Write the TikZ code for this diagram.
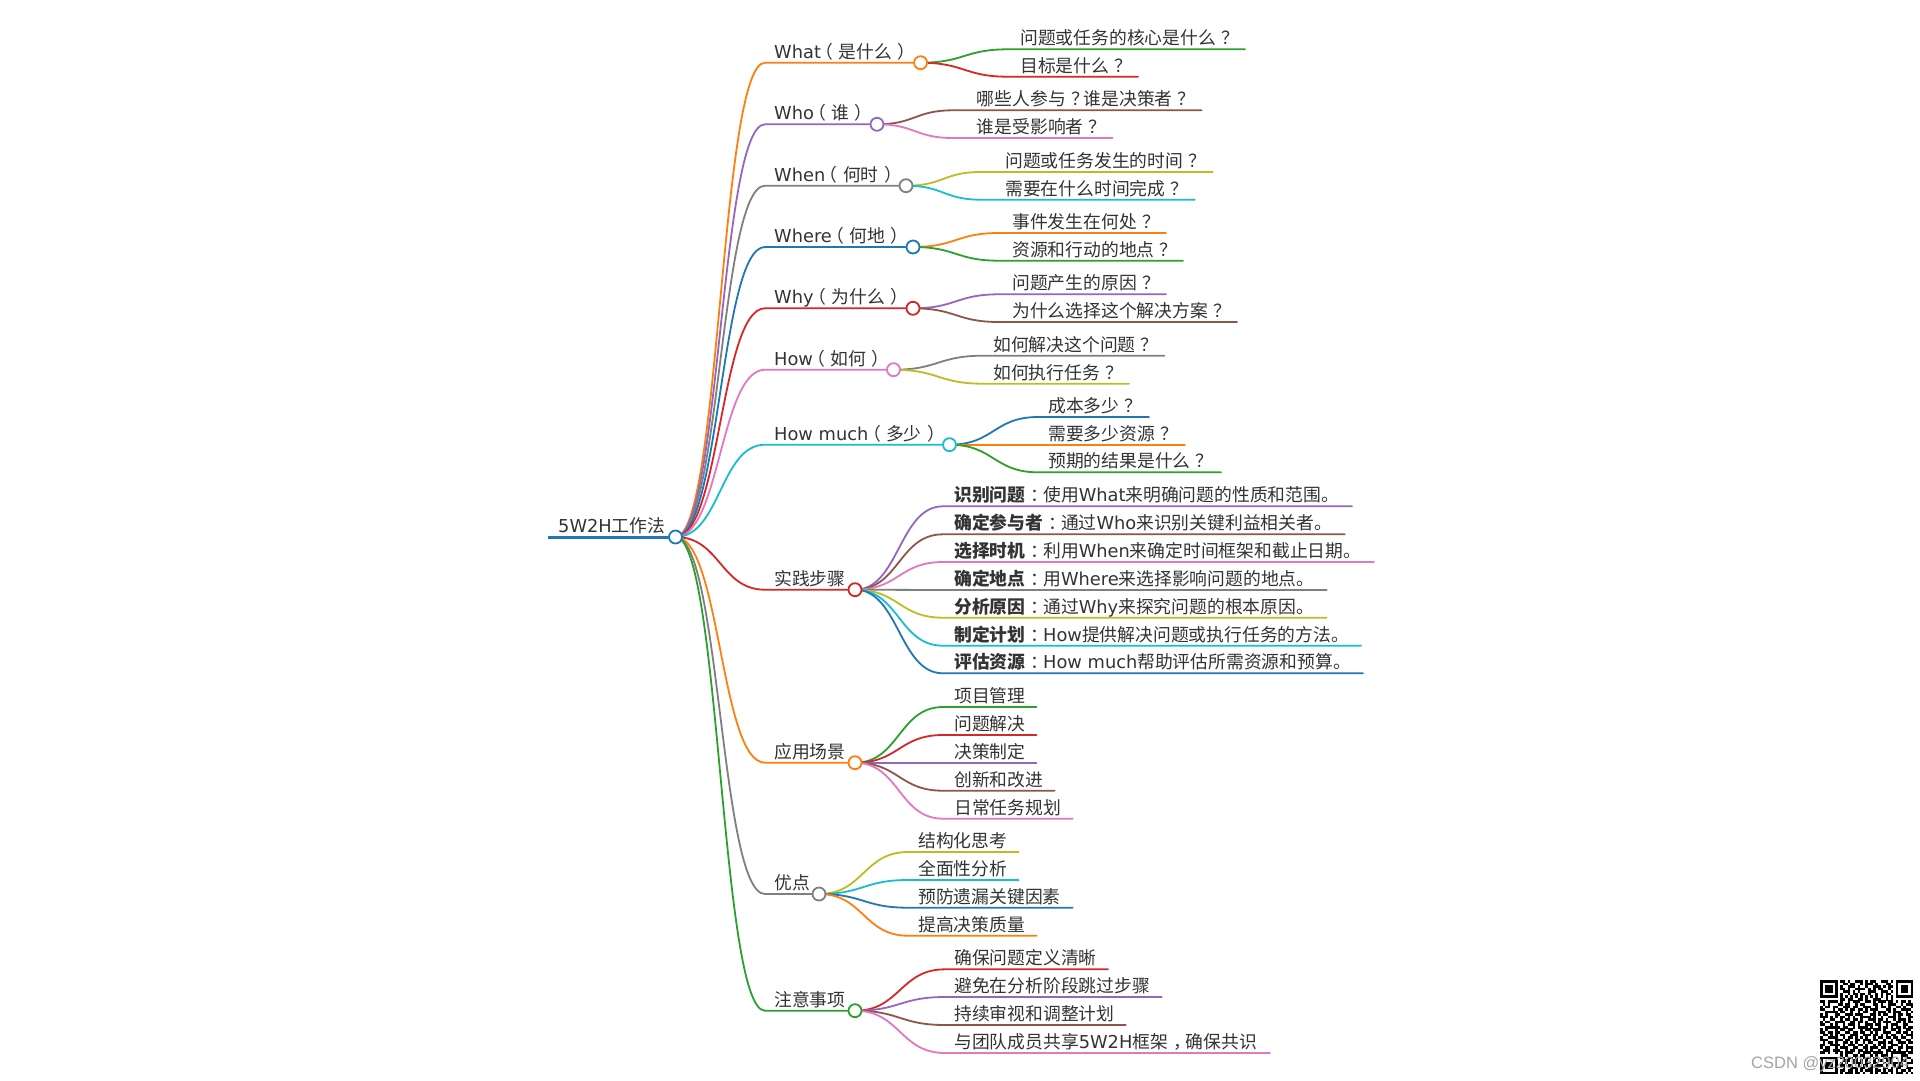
\documentclass[tikz,border=0pt]{standalone}
\usepackage{fontspec}
\usetikzlibrary{calc,backgrounds}
\setmainfont{DejaVu Sans}
\newfontfamily\cjkf{Noto Sans CJK SC}
\newfontfamily\wmf{Liberation Sans}
\newcommand\cj[1]{{\cjkf #1}}
\newcommand\lp{\kern-.3em（\kern.3em}
\newcommand\rp{\kern.3em）\kern-.3em}
\newcommand\fq{\kern.3em？\kern-.3em}
\newcommand\co{\kern.3em：\kern-.3em}
\newcommand\cm{\kern.3em，\kern-.3em}
\definecolor{cb}{HTML}{1F77B4}
\definecolor{co}{HTML}{FF7F0E}
\definecolor{cg}{HTML}{2CA02C}
\definecolor{cr}{HTML}{D62728}
\definecolor{cp}{HTML}{9467BD}
\definecolor{cn}{HTML}{8C564B}
\definecolor{ck}{HTML}{E377C2}
\definecolor{cy}{HTML}{7F7F7F}
\definecolor{cl}{HTML}{BCBD22}
\definecolor{cc}{HTML}{17BECF}
\definecolor{ink}{HTML}{333333}
\definecolor{wmark}{HTML}{A4A4A4}
\tikzset{
  link/.style={line width=1.8pt,line cap=round},
  dotnode/.style={circle,draw=#1,line width=1.8pt,fill=white,inner sep=0pt,minimum size=13pt},
  lab/.style={text=ink,inner sep=0pt,anchor=base west,font=\fontsize{17.8}{20}\selectfont}
}
% #1 colour #2 source #3 name #4 curve end x #5 y #6 line end x #7 text x #8 text
\newcommand\leaf[8]{%
  \coordinate (#3c) at (#4,#5);
  \coordinate (#3e) at (#6,#5);
  \begin{pgfonlayer}{background}
  \draw[link,#1] let \p1=(#2.center),\p2=(#3c),\n1={(\x1+\x2)/2} in
     (#2.center) .. controls (\n1,\y1) and (\n1,\y2) .. (#3c) -- (#3e);
  \end{pgfonlayer}
  \node[lab] (#3) at (#7,#5-4.5) {#8};
}
% #1 colour #2 name #3 y #4 circle x #5 text
\newcommand\branch[5]{%
  \node[dotnode=#1] (#2) at (#4,#3) {};
  \coordinate (#2c) at (765,#3);
  \begin{pgfonlayer}{background}
  \draw[link,#1] let \p1=(root.center),\p2=(#2c),\n1={(\x1+\x2)/2} in
     (root.center) .. controls (\n1,\y1) and (\n1,\y2) .. (#2c) -- (#2.center);
  \end{pgfonlayer}
  \node[lab] (#2t) at (774,#3-4.5) {#5};
}
\newcount\qx
\def\qrcell#1{\ifx#1;\else\if#1x\fill[black] ({1820+\the\qx*2.52},{980+\qrow*2.55}) rectangle ++(2.62,2.65);\fi\global\advance\qx by 1 \expandafter\qrcell\fi}
\begin{document}
\begin{tikzpicture}[x=1pt,y=-1pt]
\useasboundingbox (0,0) rectangle (1920,1080);
\begin{pgfonlayer}{background}
\fill[white] (0,0) rectangle (1920,1080);
\end{pgfonlayer}
% root
\node[dotnode=cb] (root) at (675.5,537) {};
\coordinate (rootl) at (547.5,537);
\begin{pgfonlayer}{background}
\draw[cb,line width=3pt] (rootl) -- (root.center);
\end{pgfonlayer}
\node[lab] (roott) at (558,532.5) {5W2H\cj{工作法}};
% What
\branch{co}{a}{62.7}{920.6}{What\cj{\lp 是什么\rp}}
\leaf{cg}{a}{aa}{1008}{49.3}{1245}{1020}{\cj{问题或任务的核心是什么\fq}}
\leaf{cr}{a}{ab}{1008}{76.7}{1138}{1020}{\cj{目标是什么\fq}}
% Who
\branch{cp}{b}{124.3}{877}{Who\cj{\lp 谁\rp}}
\leaf{cn}{b}{ba}{953}{110.3}{1201.6}{976.6}{\cj{哪些人参与\fq 谁是决策者\fq}}
\leaf{ck}{b}{bb}{953}{138}{1112.5}{976.6}{\cj{谁是受影响者\fq}}
% When
\branch{cy}{c}{185.7}{906}{When\cj{\lp 何时\rp}}
\leaf{cl}{c}{ca}{981}{172}{1212.6}{1005}{\cj{问题或任务发生的时间\fq}}
\leaf{cc}{c}{cb}{981}{199.7}{1194.7}{1005}{\cj{需要在什么时间完成\fq}}
% Where
\branch{cb}{d}{247}{913}{Where\cj{\lp 何地\rp}}
\leaf{co}{d}{da}{999}{233}{1166}{1012}{\cj{事件发生在何处\fq}}
\leaf{cg}{d}{db}{999}{260.7}{1183}{1012}{\cj{资源和行动的地点\fq}}
% Why
\branch{cr}{e}{308.3}{913}{Why\cj{\lp 为什么\rp}}
\leaf{cp}{e}{ea}{999}{294.3}{1166}{1012}{\cj{问题产生的原因\fq}}
\leaf{cn}{e}{eb}{999}{322}{1237}{1012}{\cj{为什么选择这个解决方案\fq}}
% How
\branch{ck}{f}{369.7}{893.5}{How\cj{\lp 如何\rp}}
\leaf{cy}{f}{fa}{983}{355.7}{1164.4}{993}{\cj{如何解决这个问题\fq}}
\leaf{cl}{f}{fb}{983}{383.7}{1129}{993}{\cj{如何执行任务\fq}}
% How much
\branch{cc}{g}{444.7}{949.5}{How much\cj{\lp 多少\rp}}
\leaf{cb}{g}{ga}{1038}{417}{1149}{1048}{\cj{成本多少\fq}}
\leaf{co}{g}{gb}{1038}{444.7}{1185}{1048}{\cj{需要多少资源\fq}}
\leaf{cg}{g}{gc}{1038}{472.3}{1221}{1048}{\cj{预期的结果是什么\fq}}
% practice
\branch{cr}{h}{589.7}{855}{\cj{实践步骤}}
\leaf{cp}{h}{ha}{943}{506.3}{1352}{954}{\cj{\bfseries 识别问题}\cj{\co 使用}What\cj{来明确问题的性质和范围。}}
\leaf{cn}{h}{hb}{943}{534.3}{1344.7}{954}{\cj{\bfseries 确定参与者}\cj{\co 通过}Who\cj{来识别关键利益相关者。}}
\leaf{ck}{h}{hc}{943}{562}{1374}{954}{\cj{\bfseries 选择时机}\cj{\co 利用}When\cj{来确定时间框架和截止日期。}}
\leaf{cy}{h}{hd}{943}{590}{1326.6}{954}{\cj{\bfseries 确定地点}\cj{\co 用}Where\cj{来选择影响问题的地点。}}
\leaf{cl}{h}{he}{943}{617.7}{1326.6}{954}{\cj{\bfseries 分析原因}\cj{\co 通过}Why\cj{来探究问题的根本原因。}}
\leaf{cc}{h}{hf}{943}{645.7}{1361}{954}{\cj{\bfseries 制定计划}\cj{\co}How\cj{提供解决问题或执行任务的方法。}}
\leaf{cb}{h}{hg}{943}{673.3}{1363}{954}{\cj{\bfseries 评估资源}\cj{\co}How much\cj{帮助评估所需资源和预算。}}
% scenes
\branch{co}{i}{762.7}{855}{\cj{应用场景}}
\leaf{cg}{i}{ia}{943}{707}{1036.4}{954}{\cj{项目管理}}
\leaf{cr}{i}{ib}{943}{735}{1036.4}{954}{\cj{问题解决}}
\leaf{cp}{i}{ic}{943}{762.7}{1036.4}{954}{\cj{决策制定}}
\leaf{cn}{i}{id}{943}{790.7}{1054.6}{954}{\cj{创新和改进}}
\leaf{ck}{i}{ie}{943}{818.7}{1072.6}{954}{\cj{日常任务规划}}
% merits
\branch{cy}{j}{894}{819}{\cj{优点}}
\leaf{cl}{j}{ja}{908}{852}{1018.6}{918}{\cj{结构化思考}}
\leaf{cc}{j}{jb}{908}{880}{1018.6}{918}{\cj{全面性分析}}
\leaf{cb}{j}{jc}{908}{907.7}{1072.6}{918}{\cj{预防遗漏关键因素}}
\leaf{co}{j}{jd}{908}{935.7}{1036.6}{918}{\cj{提高决策质量}}
% notes
\branch{cg}{k}{1010.7}{855}{\cj{注意事项}}
\leaf{cr}{k}{ka}{945}{969.3}{1108}{954}{\cj{确保问题定义清晰}}
\leaf{cp}{k}{kb}{945}{997}{1161.7}{954}{\cj{避免在分析阶段跳过步骤}}
\leaf{cn}{k}{kc}{945}{1025}{1125.8}{954}{\cj{持续审视和调整计划}}
\leaf{ck}{k}{kd}{945}{1053}{1270}{954}{\cj{与团队成员共享}5W2H\cj{框架\cm 确保共识}}
% QR code
\foreach \qrrowstr [count=\qi from 0] in {
xxxxxxxoxxoxooxxxoxoxxooxxxoxoxxxxxxx,
xoooooxooxxoxxooxoxxxoxoooxxooxooooox,
xoxxxoxoxooxxxoxooxooxxxoxoxxoxoxxxox,
xoxxxoxoxxoxooxxxxoxoxoxxooxooxoxxxox,
xoxxxoxooxxxoxoxoooxxxooxxxoxoxoxxxox,
xoooooxoxooxoxxoxxoxooxoxoxxooxooooox,
xxxxxxxoxoxoxoxoxoxoxoxoxoxoxoxxxxxxx,
ooooooooxxoxxooxxoxooxxxooxoxoooooooo,
xxoxxxxoxooxoxxxooxxoxoxxxoxxoxoxxoxo,
oxoxoooxxoxxooxoxxoooxxoxooxxxooxoxxx,
xoxxoxxooxxxoxxooxxxooxoxxoxooxxoxoox,
xxoooxoxxoxoxxoxxoxoxxxoooxxoxooxxxxo,
ooxxxxxoxxooxooxoxxooxoxxxoxoxxxooxox,
xoxoooxxooxxxoxxxoooxxoxoxxooxoxxoxxo,
xxxoxoxoxxoxoxooxxxxoxooxooxxxoxoooxx,
oxooxxooxoxxoxxoxooxxxoxxoxooxoxxxoxo,
xoxxooxxxxooxxoxxoxooxoxoxxxooxxoxoxx,
xxooxoxooxoxxxoxooxxxoxxooxoxxxooxxoo,
ooxxxxxxoxxooxoxxxxoxooxoxxoxoxxoxoxx,
xoxoooxoxxoxxoooxoxxoxxxoxooxxoxooxxo,
xxoxxoxxooxxoxxoxxooxoxooxxxooxxoxxox,
oxxoxoxoxxooxxxooxxxoxxoxoxoxxooxoxxx,
xooxxxxooxoxxoxoxoxooxoxxoxxoxxoxxoox,
xxxoooxxxoxxooxxoxxxoxxooxooxoxxooxxo,
oxoxxoxooxxoxoxooxoxxooxxxoxxooxxxoxx,
xxooxxxxoxoxxxoxxoxooxoxoxooxxxoxoxoo,
xoxxooxoxxxooxxooxxoxxxoxxoxxooxxoxxx,
oxxxoxxxooxoxxoxxoxoxooxooxxoxoxooxox,
xxoxooxoxoxxxooxoxxxoxxxxoxoxxxxxxoxx,
ooooooooxoxooxxoxxooxoxoxxxoxoooxxxoo,
xxxxxxxoxxoxxoxooxxxoxxooxxxxoxoxoxxo,
xoooooxooxxxoxxoxoxooxoxxoxxxoooxxoox,
xoxxxoxoxoxooxxxxoxxoxxooxoxxxxxxoxxx,
xoxxxoxoxxoxxooxoxxoxoxxxoxooxoxxoxoo,
xoxxxoxooxooxxxoxxoxxoxooxxoxoxxooxxx,
xoooooxoxxoxxoxoxoxxxoxxoxoxxoxoxxoxo,
xxxxxxxoxoxxxoxxoxooxoxoxxxoxoxxxoxox}{
  \global\qx=0
  \edef\qrow{\qi}
  \expandafter\qrcell\qrrowstr;
}
\node[inner sep=0pt,anchor=base west,text=wmark,font=\wmf\fontsize{16.5}{18}\selectfont] (wm) at (1751,1068) {CSDN @yz20032904};
\end{tikzpicture}
\end{document}
